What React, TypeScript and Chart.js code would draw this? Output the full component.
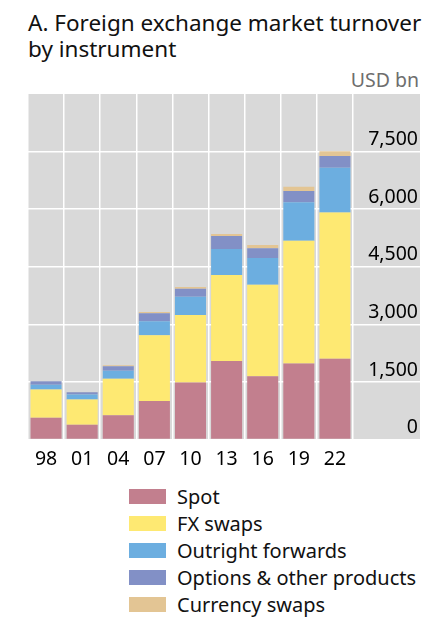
import React, { useEffect, useRef } from "react";
import { Chart, registerables } from "chart.js";

Chart.register(...registerables);

const years = ["98", "01", "04", "07", "10", "13", "16", "19", "22"];
const spot = [568, 386, 631, 1005, 1489, 2047, 1652, 1979, 2107];
const fxSwaps = [734, 656, 954, 1714, 1759, 2240, 2378, 3202, 3810];
const outrightForwards = [128, 130, 209, 362, 475, 679, 700, 999, 1163];
const optionsOther = [87, 60, 119, 212, 207, 337, 254, 294, 304];
const currencySwaps = [10, 7, 21, 31, 43, 54, 82, 108, 124];

const seriesNames = ["Spot", "FX swaps", "Outright forwards", "Options & other products", "Currency swaps"];
const seriesColors = ["#c27f8e", "#fee972", "#6caee0", "#8290c6", "#e3c594"];
const seriesData = [spot, fxSwaps, outrightForwards, optionsOther, currencySwaps];

const yTicksMax = 9000;
const yStep = 1500;

const FONT = "'Noto Sans', sans-serif";

const bgPlugin = {
  id: "plotBg",
  beforeDraw(chart: any) {
    const { ctx, chartArea } = chart;
    const y = chart.scales.y;
    ctx.save();
    ctx.fillStyle = "#d9d9d9";
    ctx.fillRect(chartArea.left, chartArea.top, y.right + 2 - chartArea.left, chartArea.bottom - chartArea.top);
    ctx.restore();
  },
};

function BarChart() {
  const ref = useRef<HTMLCanvasElement>(null);
  useEffect(() => {
    if (!ref.current) return;
    const chart = new Chart(ref.current, {
      type: "bar",
      data: {
        labels: years,
        datasets: seriesNames.map((name, i) => ({
          label: name,
          data: seriesData[i],
          backgroundColor: seriesColors[i],
          borderWidth: 0,
          categoryPercentage: 1,
          barPercentage: 0.86,
        })),
      },
      plugins: [bgPlugin],
      options: {
        animation: false,
        responsive: true,
        maintainAspectRatio: false,
        layout: { padding: { left: 28, top: 94, right: 30, bottom: 1 } },
        plugins: { legend: { display: false }, tooltip: { enabled: false }, title: { display: false } },
        scales: {
          x: {
            stacked: true,
            grid: { color: "#ffffff", lineWidth: 1.5, drawTicks: false, offset: true },
            border: { display: false },
            ticks: { color: "#000", font: { family: FONT, size: 19.5 }, padding: 8 },
          },
          y: {
            stacked: true,
            position: "right",
            min: 0,
            max: yTicksMax,
            afterFit: (scale: any) => {
              scale.width = 65;
            },
            grid: {
              color: (c: any) => (c.tick && c.tick.value === yTicksMax ? "rgba(0,0,0,0)" : "#ffffff"),
              lineWidth: 1.5,
              drawTicks: true,
              tickLength: 67,
            },
            border: { display: false },
            ticks: {
              stepSize: yStep,
              crossAlign: "far",
              labelOffset: -12,
              color: "#000",
              font: { family: FONT, size: 19.5 },
              callback: (v: any) => (Number(v) === yTicksMax ? "" : Number(v).toLocaleString("en-US")),
            },
          },
        },
      },
    });
    return () => chart.destroy();
  }, []);
  return <canvas ref={ref} />;
}

export default function App() {
  return (
    <div style={{ position: "absolute", left: 0, top: 0, width: 448, height: 630, fontFamily: FONT, background: "#fff" }}>
      <div style={{ position: "absolute", left: 28, top: 10, fontSize: 22.5, lineHeight: "26px", color: "#111", whiteSpace: "nowrap" }}>
        A. Foreign exchange market turnover
        <br />
        by instrument
      </div>
      <div style={{ position: "absolute", right: 29, top: 67, fontSize: 19.5, lineHeight: "26px", color: "#6e6e6e" }}>USD bn</div>
      <div style={{ position: "absolute", left: 0, top: 0, width: 448, height: 480 }}>
        <BarChart />
      </div>
      <div style={{ position: "absolute", left: 129, top: 483 }}>
        {seriesNames.map((name, i) => (
          <div key={name} style={{ display: "flex", alignItems: "center", height: 27 }}>
            <div style={{ width: 37, height: 15, background: seriesColors[i], marginRight: 11 }} />
            <span style={{ fontSize: 20, color: "#111", lineHeight: "27px", whiteSpace: "nowrap" }}>{name}</span>
          </div>
        ))}
      </div>
    </div>
  );
}
